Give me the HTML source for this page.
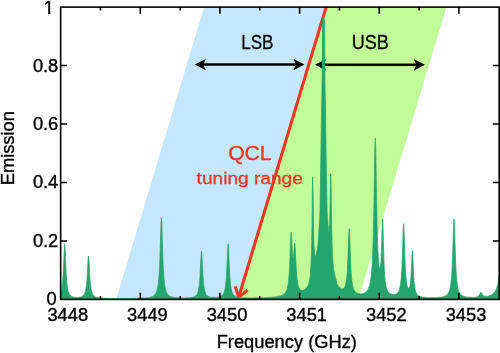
<!DOCTYPE html>
<html><head><meta charset="utf-8"><title>Emission spectrum</title>
<style>
html,body{margin:0;padding:0;background:#fff;}
svg{display:block;}
text{font-family:"Liberation Sans",sans-serif;}
</style></head>
<body>
<svg width="500" height="353" viewBox="0 0 500 353">
<rect width="500" height="353" fill="#fff"/>
<polygon points="204.10,7.1 326.10,7.1 238.03,299.4 116.03,299.4" fill="#c5e7fb"/>
<polygon points="326.10,7.1 446.40,7.1 358.33,299.4 238.03,299.4" fill="#c2fc98"/>
<path d="M326.10,7.1 L238.66,297.30" stroke="#f03423" stroke-width="3.0" fill="none"/><path d="M247.57,290.03 L238.66,297.30 L235.26,286.32" stroke="#f03423" stroke-width="3.0" fill="none" stroke-linejoin="miter"/>
<path d="M202.90,64.6 L296.40,64.6" stroke="#000" stroke-width="2.5" fill="none"/><path d="M194.80,64.6 L205.80,59.00 L203.40,64.6 L205.80,70.20 Z" fill="#000"/><path d="M304.50,64.6 L293.50,59.00 L295.90,64.6 L293.50,70.20 Z" fill="#000"/><path d="M323.10,64.8 L416.90,64.8" stroke="#000" stroke-width="2.5" fill="none"/><path d="M315.00,64.8 L326.00,59.20 L323.60,64.8 L326.00,70.40 Z" fill="#000"/><path d="M425.00,64.8 L414.00,59.20 L416.40,64.8 L414.00,70.40 Z" fill="#000"/>
<g font-size="19.3" fill="#000" stroke="#000" stroke-width="0.3">
<text x="241.2" y="48.9" textLength="32.2" lengthAdjust="spacingAndGlyphs">LSB</text>
<text x="351.7" y="49.1" textLength="37.2" lengthAdjust="spacingAndGlyphs">USB</text>
</g>
<g fill="#f03423" stroke="#f03423" stroke-width="0.3">
<text x="228.2" y="159.8" font-size="20" textLength="43.4" lengthAdjust="spacingAndGlyphs">QCL</text>
<text x="196.6" y="184.0" font-size="17.1" textLength="106.2" lengthAdjust="spacingAndGlyphs">tuning range</text>
</g>
<path d="M60.65,299.40 L60.65,292.80 60.90,292.11 61.15,291.28 61.40,290.30 61.65,289.12 61.90,287.70 62.15,285.98 62.40,283.86 62.65,281.25 62.90,278.04 63.15,274.08 63.40,269.30 63.65,263.67 63.90,257.45 64.15,251.31 64.40,246.41 64.65,244.08 64.90,245.10 65.15,249.11 65.40,254.91 65.65,261.20 65.90,267.11 66.15,272.23 66.40,276.51 66.65,279.99 66.90,282.82 67.15,285.11 67.40,286.98 67.65,288.51 67.90,289.77 68.15,290.81 68.40,291.69 68.65,292.43 68.90,293.06 69.15,293.59 69.40,294.05 69.65,294.45 69.90,294.80 70.15,295.10 70.40,295.37 70.65,295.60 70.90,295.81 71.15,296.00 71.40,296.16 71.65,296.31 71.90,296.44 72.15,296.55 72.40,296.66 72.65,296.75 72.90,296.84 73.15,296.91 73.40,296.98 73.65,297.04 73.90,297.10 74.15,297.15 74.40,297.19 74.65,297.23 74.90,297.27 75.15,297.30 75.40,297.32 75.65,297.34 75.90,297.36 76.15,297.38 76.40,297.39 76.65,297.39 76.90,297.40 77.15,297.40 77.40,297.40 77.65,297.39 77.90,297.38 78.15,297.37 78.40,297.35 78.65,297.33 78.90,297.30 79.15,297.27 79.40,297.24 79.65,297.20 79.90,297.15 80.15,297.10 80.40,297.04 80.65,296.98 80.90,296.91 81.15,296.82 81.40,296.73 81.65,296.63 81.90,296.51 82.15,296.38 82.40,296.23 82.65,296.06 82.90,295.87 83.15,295.66 83.40,295.41 83.65,295.12 83.90,294.79 84.15,294.41 84.40,293.97 84.65,293.44 84.90,292.83 85.15,292.09 85.40,291.21 85.65,290.14 85.90,288.85 86.15,287.26 86.40,285.31 86.65,282.90 86.90,279.93 87.15,276.31 87.40,272.03 87.65,267.22 87.90,262.34 88.15,258.21 88.40,255.92 88.65,256.19 88.90,258.94 89.15,263.30 89.40,268.23 89.65,272.97 89.90,277.13 90.15,280.62 90.40,283.47 90.65,285.79 90.90,287.68 91.15,289.21 91.40,290.46 91.65,291.49 91.90,292.35 92.15,293.07 92.40,293.67 92.65,294.19 92.90,294.63 93.15,295.01 93.40,295.34 93.65,295.62 93.90,295.87 94.15,296.09 94.40,296.29 94.65,296.47 94.90,296.62 95.15,296.76 95.40,296.89 95.65,297.00 95.90,297.10 96.15,297.20 96.40,297.28 96.65,297.36 96.90,297.43 97.15,297.49 97.40,297.55 97.65,297.61 97.90,297.66 98.15,297.71 98.40,297.75 98.65,297.79 98.90,297.83 99.15,297.87 99.40,297.90 99.65,297.93 99.90,297.96 100.15,297.99 100.40,298.01 100.65,298.04 100.90,298.06 101.15,298.08 101.40,298.10 101.65,298.12 101.90,298.14 102.15,298.15 102.40,298.17 102.65,298.19 102.90,298.20 103.15,298.21 103.40,298.23 103.65,298.24 103.90,298.25 104.15,298.26 104.40,298.27 104.65,298.28 104.90,298.29 105.15,298.30 105.40,298.31 105.65,298.32 105.90,298.33 106.15,298.33 106.40,298.34 106.65,298.35 106.90,298.36 107.15,298.36 107.40,298.37 107.65,298.37 107.90,298.38 108.15,298.39 108.40,298.39 108.65,298.40 108.90,298.40 109.15,298.40 109.40,298.41 109.65,298.41 109.90,298.42 110.15,298.42 110.40,298.42 110.65,298.43 110.90,298.43 111.15,298.43 111.40,298.44 111.65,298.44 111.90,298.44 112.15,298.45 112.40,298.45 112.65,298.45 112.90,298.45 113.15,298.46 113.40,298.46 113.65,298.46 113.90,298.46 114.15,298.46 114.40,298.47 114.65,298.47 114.90,298.47 115.15,298.47 115.40,298.47 115.65,298.47 115.90,298.47 116.15,298.47 116.40,298.48 116.65,298.48 116.90,298.48 117.15,298.48 117.40,298.48 117.65,298.48 117.90,298.48 118.15,298.48 118.40,298.48 118.65,298.48 118.90,298.48 119.15,298.48 119.40,298.48 119.65,298.48 119.90,298.48 120.15,298.48 120.40,298.48 120.65,298.48 120.90,298.48 121.15,298.48 121.40,298.48 121.65,298.48 121.90,298.48 122.15,298.48 122.40,298.48 122.65,298.48 122.90,298.48 123.15,298.48 123.40,298.48 123.65,298.48 123.90,298.48 124.15,298.48 124.40,298.48 124.65,298.47 124.90,298.47 125.15,298.47 125.40,298.47 125.65,298.47 125.90,298.47 126.15,298.47 126.40,298.47 126.65,298.46 126.90,298.46 127.15,298.46 127.40,298.46 127.65,298.46 127.90,298.45 128.15,298.45 128.40,298.45 128.65,298.45 128.90,298.45 129.15,298.44 129.40,298.44 129.65,298.44 129.90,298.44 130.15,298.43 130.40,298.43 130.65,298.43 130.90,298.43 131.15,298.42 131.40,298.42 131.65,298.42 131.90,298.41 132.15,298.41 132.40,298.41 132.65,298.40 132.90,298.40 133.15,298.40 133.40,298.39 133.65,298.39 133.90,298.38 134.15,298.38 134.40,298.38 134.65,298.37 134.90,298.37 135.15,298.36 135.40,298.36 135.65,298.35 135.90,298.35 136.15,298.34 136.40,298.34 136.65,298.33 136.90,298.32 137.15,298.32 137.40,298.31 137.65,298.30 137.90,298.30 138.15,298.29 138.40,298.28 138.65,298.28 138.90,298.27 139.15,298.26 139.40,298.25 139.65,298.24 139.90,298.23 140.15,298.22 140.40,298.21 140.65,298.20 140.90,298.19 141.15,298.18 141.40,298.17 141.65,298.16 141.90,298.15 142.15,298.14 142.40,298.12 142.65,298.11 142.90,298.09 143.15,298.08 143.40,298.06 143.65,298.05 143.90,298.03 144.15,298.01 144.40,298.00 144.65,297.98 144.90,297.96 145.15,297.94 145.40,297.92 145.65,297.89 145.90,297.87 146.15,297.84 146.40,297.82 146.65,297.79 146.90,297.76 147.15,297.73 147.40,297.70 147.65,297.67 147.90,297.63 148.15,297.59 148.40,297.55 148.65,297.51 148.90,297.47 149.15,297.42 149.40,297.37 149.65,297.32 149.90,297.26 150.15,297.20 150.40,297.13 150.65,297.07 150.90,296.99 151.15,296.91 151.40,296.83 151.65,296.74 151.90,296.64 152.15,296.53 152.40,296.42 152.65,296.30 152.90,296.16 153.15,296.02 153.40,295.86 153.65,295.68 153.90,295.49 154.15,295.28 154.40,295.05 154.65,294.79 154.90,294.51 155.15,294.19 155.40,293.84 155.65,293.44 155.90,292.99 156.15,292.49 156.40,291.91 156.65,291.26 156.90,290.50 157.15,289.63 157.40,288.61 157.65,287.43 157.90,286.03 158.15,284.38 158.40,282.40 158.65,280.03 158.90,277.16 159.15,273.68 159.40,269.45 159.65,264.31 159.90,258.12 160.15,250.82 160.40,242.55 160.65,233.83 160.90,225.74 161.15,219.83 161.40,217.64 161.65,219.83 161.90,225.73 162.15,233.83 162.40,242.54 162.65,250.81 162.90,258.10 163.15,264.29 163.40,269.43 163.65,273.66 163.90,277.14 164.15,280.01 164.40,282.38 164.65,284.35 164.90,286.00 165.15,287.40 165.40,288.58 165.65,289.59 165.90,290.46 166.15,291.21 166.40,291.87 166.65,292.44 166.90,292.94 167.15,293.39 167.40,293.78 167.65,294.13 167.90,294.45 168.15,294.73 168.40,294.98 168.65,295.21 168.90,295.42 169.15,295.61 169.40,295.78 169.65,295.94 169.90,296.08 170.15,296.21 170.40,296.33 170.65,296.45 170.90,296.55 171.15,296.64 171.40,296.73 171.65,296.81 171.90,296.89 172.15,296.96 172.40,297.02 172.65,297.09 172.90,297.14 173.15,297.20 173.40,297.25 173.65,297.29 173.90,297.34 174.15,297.38 174.40,297.42 174.65,297.45 174.90,297.49 175.15,297.52 175.40,297.55 175.65,297.58 175.90,297.60 176.15,297.63 176.40,297.65 176.65,297.67 176.90,297.69 177.15,297.71 177.40,297.73 177.65,297.75 177.90,297.77 178.15,297.78 178.40,297.79 178.65,297.81 178.90,297.82 179.15,297.83 179.40,297.84 179.65,297.85 179.90,297.86 180.15,297.87 180.40,297.88 180.65,297.88 180.90,297.89 181.15,297.90 181.40,297.90 181.65,297.90 181.90,297.91 182.15,297.91 182.40,297.91 182.65,297.92 182.90,297.92 183.15,297.92 183.40,297.92 183.65,297.92 183.90,297.92 184.15,297.91 184.40,297.91 184.65,297.91 184.90,297.90 185.15,297.90 185.40,297.89 185.65,297.89 185.90,297.88 186.15,297.87 186.40,297.86 186.65,297.86 186.90,297.85 187.15,297.83 187.40,297.82 187.65,297.81 187.90,297.80 188.15,297.78 188.40,297.76 188.65,297.75 188.90,297.73 189.15,297.71 189.40,297.68 189.65,297.66 189.90,297.63 190.15,297.61 190.40,297.58 190.65,297.55 190.90,297.51 191.15,297.47 191.40,297.43 191.65,297.39 191.90,297.34 192.15,297.29 192.40,297.24 192.65,297.18 192.90,297.11 193.15,297.04 193.40,296.96 193.65,296.88 193.90,296.78 194.15,296.68 194.40,296.56 194.65,296.44 194.90,296.30 195.15,296.14 195.40,295.97 195.65,295.77 195.90,295.55 196.15,295.30 196.40,295.02 196.65,294.69 196.90,294.32 197.15,293.89 197.40,293.39 197.65,292.80 197.90,292.11 198.15,291.28 198.40,290.30 198.65,289.11 198.90,287.67 199.15,285.91 199.40,283.73 199.65,281.06 199.90,277.76 200.15,273.75 200.40,268.99 200.65,263.66 200.90,258.24 201.15,253.67 201.40,251.12 201.65,251.42 201.90,254.45 202.15,259.28 202.40,264.74 202.65,269.98 202.90,274.58 203.15,278.44 203.40,281.60 203.65,284.17 203.90,286.24 204.15,287.93 204.40,289.31 204.65,290.45 204.90,291.40 205.15,292.18 205.40,292.85 205.65,293.41 205.90,293.89 206.15,294.31 206.40,294.67 206.65,294.98 206.90,295.25 207.15,295.48 207.40,295.69 207.65,295.88 207.90,296.04 208.15,296.19 208.40,296.32 208.65,296.44 208.90,296.54 209.15,296.64 209.40,296.72 209.65,296.80 209.90,296.87 210.15,296.93 210.40,296.98 210.65,297.03 210.90,297.08 211.15,297.12 211.40,297.16 211.65,297.19 211.90,297.22 212.15,297.24 212.40,297.27 212.65,297.28 212.90,297.30 213.15,297.31 213.40,297.33 213.65,297.33 213.90,297.34 214.15,297.34 214.40,297.35 214.65,297.34 214.90,297.34 215.15,297.34 215.40,297.33 215.65,297.32 215.90,297.30 216.15,297.29 216.40,297.27 216.65,297.25 216.90,297.23 217.15,297.20 217.40,297.17 217.65,297.14 217.90,297.10 218.15,297.06 218.40,297.01 218.65,296.96 218.90,296.91 219.15,296.85 219.40,296.78 219.65,296.71 219.90,296.63 220.15,296.54 220.40,296.44 220.65,296.33 220.90,296.21 221.15,296.07 221.40,295.92 221.65,295.75 221.90,295.57 222.15,295.35 222.40,295.12 222.65,294.85 222.90,294.54 223.15,294.19 223.40,293.79 223.65,293.32 223.90,292.79 224.15,292.15 224.40,291.41 224.65,290.53 224.90,289.49 225.15,288.22 225.40,286.70 225.65,284.83 225.90,282.53 226.15,279.70 226.40,276.22 226.65,271.94 226.90,266.82 227.15,260.91 227.40,254.62 227.65,248.82 227.90,244.81 228.15,243.79 228.40,246.11 228.65,251.01 228.90,257.15 229.15,263.36 229.40,268.98 229.65,273.76 229.90,277.71 230.15,280.92 230.40,283.53 230.65,285.64 230.90,287.36 231.15,288.78 231.40,289.95 231.65,290.93 231.90,291.75 232.15,292.45 232.40,293.04 232.65,293.55 232.90,293.99 233.15,294.38 233.40,294.71 233.65,295.01 233.90,295.27 234.15,295.50 234.40,295.70 234.65,295.88 234.90,296.05 235.15,296.20 235.40,296.33 235.65,296.45 235.90,296.56 236.15,296.66 236.40,296.75 236.65,296.83 236.90,296.91 237.15,296.98 237.40,297.04 237.65,297.10 237.90,297.16 238.15,297.21 238.40,297.26 238.65,297.30 238.90,297.34 239.15,297.38 239.40,297.42 239.65,297.45 239.90,297.48 240.15,297.51 240.40,297.53 240.65,297.56 240.90,297.58 241.15,297.61 241.40,297.63 241.65,297.65 241.90,297.66 242.15,297.68 242.40,297.70 242.65,297.71 242.90,297.73 243.15,297.74 243.40,297.75 243.65,297.76 243.90,297.77 244.15,297.78 244.40,297.79 244.65,297.80 244.90,297.81 245.15,297.82 245.40,297.83 245.65,297.83 245.90,297.84 246.15,297.85 246.40,297.85 246.65,297.86 246.90,297.86 247.15,297.87 247.40,297.87 247.65,297.87 247.90,297.88 248.15,297.88 248.40,297.88 248.65,297.89 248.90,297.89 249.15,297.89 249.40,297.89 249.65,297.89 249.90,297.89 250.15,297.89 250.40,297.90 250.65,297.90 250.90,297.90 251.15,297.90 251.40,297.90 251.65,297.90 251.90,297.89 252.15,297.89 252.40,297.89 252.65,297.89 252.90,297.89 253.15,297.89 253.40,297.89 253.65,297.89 253.90,297.88 254.15,297.88 254.40,297.88 254.65,297.88 254.90,297.87 255.15,297.87 255.40,297.87 255.65,297.86 255.90,297.86 256.15,297.86 256.40,297.85 256.65,297.85 256.90,297.85 257.15,297.84 257.40,297.84 257.65,297.83 257.90,297.83 258.15,297.82 258.40,297.82 258.65,297.81 258.90,297.81 259.15,297.80 259.40,297.80 259.65,297.79 259.90,297.79 260.15,297.78 260.40,297.77 260.65,297.77 260.90,297.76 261.15,297.75 261.40,297.75 261.65,297.74 261.90,297.73 262.15,297.72 262.40,297.72 262.65,297.71 262.90,297.70 263.15,297.69 263.40,297.68 263.65,297.67 263.90,297.67 264.15,297.66 264.40,297.65 264.65,297.64 264.90,297.63 265.15,297.62 265.40,297.61 265.65,297.60 265.90,297.59 266.15,297.57 266.40,297.56 266.65,297.55 266.90,297.54 267.15,297.53 267.40,297.51 267.65,297.50 267.90,297.49 268.15,297.47 268.40,297.46 268.65,297.45 268.90,297.43 269.15,297.42 269.40,297.40 269.65,297.39 269.90,297.37 270.15,297.35 270.40,297.34 270.65,297.32 270.90,297.30 271.15,297.28 271.40,297.26 271.65,297.24 271.90,297.22 272.15,297.20 272.40,297.18 272.65,297.16 272.90,297.14 273.15,297.11 273.40,297.09 273.65,297.06 273.90,297.04 274.15,297.01 274.40,296.99 274.65,296.96 274.90,296.93 275.15,296.90 275.40,296.87 275.65,296.83 275.90,296.80 276.15,296.77 276.40,296.73 276.65,296.69 276.90,296.65 277.15,296.61 277.40,296.57 277.65,296.53 277.90,296.48 278.15,296.43 278.40,296.38 278.65,296.33 278.90,296.28 279.15,296.22 279.40,296.16 279.65,296.10 279.90,296.03 280.15,295.96 280.40,295.89 280.65,295.81 280.90,295.72 281.15,295.64 281.40,295.54 281.65,295.45 281.90,295.34 282.15,295.23 282.40,295.11 282.65,294.98 282.90,294.84 283.15,294.69 283.40,294.53 283.65,294.36 283.90,294.17 284.15,293.96 284.40,293.74 284.65,293.49 284.90,293.22 285.15,292.92 285.40,292.59 285.65,292.22 285.90,291.80 286.15,291.33 286.40,290.81 286.65,290.20 286.90,289.52 287.15,288.72 287.40,287.80 287.65,286.72 287.90,285.45 288.15,283.93 288.40,282.12 288.65,279.93 288.90,277.26 289.15,273.99 289.40,270.00 289.65,265.13 289.90,259.32 290.15,252.63 290.40,245.48 290.65,238.77 290.90,233.89 291.15,232.09 291.40,233.74 291.65,237.97 291.90,243.33 292.15,248.54 292.40,252.81 292.65,255.83 292.90,257.49 293.15,257.81 293.40,256.85 293.65,254.71 293.90,251.63 294.15,248.09 294.40,244.94 294.65,243.22 294.90,243.77 295.15,246.73 295.40,251.41 295.65,256.83 295.90,262.18 296.15,266.99 296.40,271.10 296.65,274.52 296.90,277.33 297.15,279.63 297.40,281.51 297.65,283.06 297.90,284.34 298.15,285.39 298.40,286.27 298.65,287.01 298.90,287.63 299.15,288.15 299.40,288.59 299.65,288.96 299.90,289.27 300.15,289.53 300.40,289.74 300.65,289.92 300.90,290.06 301.15,290.17 301.40,290.26 301.65,290.32 301.90,290.36 302.15,290.38 302.40,290.37 302.65,290.35 302.90,290.32 303.15,290.26 303.40,290.19 303.65,290.11 303.90,290.01 304.15,289.89 304.40,289.76 304.65,289.61 304.90,289.44 305.15,289.26 305.40,289.05 305.65,288.83 305.90,288.59 306.15,288.33 306.40,288.04 306.65,287.72 306.90,287.38 307.15,287.00 307.40,286.59 307.65,286.13 307.90,285.63 308.15,285.06 308.40,284.44 308.65,283.73 308.90,282.92 309.15,282.00 309.40,280.92 309.65,279.66 309.90,278.15 310.15,276.31 310.40,274.02 310.65,269.65 310.90,265.62 311.15,260.32 311.40,253.11 311.65,243.04 311.90,228.92 312.15,210.12 312.40,189.44 312.65,176.67 312.90,181.49 313.15,199.11 313.40,217.90 313.65,232.48 313.90,242.58 314.15,248.56 314.40,252.29 314.65,254.52 314.90,255.74 315.15,256.27 315.40,256.32 315.65,256.02 315.90,255.46 316.15,254.71 316.40,253.82 316.65,252.82 316.90,251.59 317.15,250.26 317.40,248.87 317.65,247.43 317.90,245.96 318.15,242.06 318.40,238.12 318.65,234.17 318.90,230.20 319.15,226.21 319.40,222.20 319.65,218.18 319.90,212.18 320.15,198.28 320.40,184.17 320.65,169.23 320.90,153.57 321.15,135.48 321.40,118.04 321.65,103.18 321.90,92.19 322.15,77.65 322.40,34.00 322.65,19.46 322.90,17.82 323.15,16.27 323.40,15.13 323.65,15.30 323.90,16.34 324.15,17.90 324.40,22.02 324.65,36.44 324.90,79.98 325.15,93.68 325.40,104.54 325.65,120.53 325.90,137.78 326.15,155.88 326.40,170.58 326.65,185.24 326.90,198.80 327.15,212.28 327.40,215.81 327.65,219.20 327.90,222.41 328.15,225.39 328.40,228.04 328.65,230.25 328.90,231.80 329.15,231.94 329.40,228.73 329.65,223.42 329.90,215.00 330.15,202.57 330.40,186.85 330.65,173.81 330.90,173.70 331.15,187.98 331.40,206.99 331.65,223.46 331.90,235.85 332.15,244.92 332.40,251.70 332.65,256.94 332.90,261.17 333.15,264.53 333.40,266.77 333.65,268.66 333.90,270.30 334.15,271.76 334.40,273.07 334.65,274.27 334.90,275.39 335.15,276.45 335.40,277.44 335.65,278.40 335.90,279.31 336.15,280.20 336.40,281.06 336.65,283.06 336.90,283.60 337.15,284.11 337.40,284.57 337.65,285.01 337.90,285.41 338.15,285.78 338.40,286.13 338.65,286.45 338.90,286.75 339.15,287.03 339.40,287.28 339.65,287.51 339.90,287.73 340.15,287.92 340.40,288.09 340.65,288.25 340.90,288.38 341.15,288.49 341.40,288.59 341.65,288.66 341.90,288.71 342.15,288.74 342.40,288.74 342.65,288.71 342.90,288.65 343.15,288.56 343.40,288.44 343.65,288.27 343.90,288.06 344.15,287.79 344.40,287.46 344.65,287.05 344.90,286.55 345.15,285.95 345.40,285.22 345.65,284.34 345.90,283.26 346.15,281.95 346.40,280.34 346.65,278.36 346.90,275.90 347.15,272.86 347.40,269.08 347.65,264.41 347.90,258.73 348.15,252.04 348.40,244.64 348.65,237.33 348.90,231.50 349.15,228.76 349.40,230.05 349.65,234.94 349.90,241.97 350.15,249.58 350.40,256.73 350.65,262.94 350.90,268.12 351.15,272.36 351.40,275.81 351.65,278.61 351.90,280.89 352.15,282.77 352.40,284.32 352.65,285.61 352.90,286.70 353.15,287.62 353.40,288.41 353.65,289.08 353.90,289.66 354.15,290.17 354.40,290.61 354.65,291.00 354.90,291.34 355.15,291.65 355.40,291.91 355.65,292.15 355.90,292.37 356.15,292.56 356.40,292.73 356.65,292.88 356.90,293.01 357.15,293.14 357.40,293.25 357.65,293.34 357.90,293.43 358.15,293.50 358.40,293.57 358.65,293.63 358.90,293.68 359.15,293.72 359.40,293.75 359.65,293.78 359.90,293.80 360.15,293.81 360.40,293.82 360.65,293.82 360.90,293.81 361.15,293.80 361.40,293.78 361.65,293.75 361.90,293.72 362.15,293.68 362.40,293.63 362.65,293.58 362.90,293.51 363.15,293.44 363.40,293.36 363.65,293.28 363.90,293.18 364.15,293.07 364.40,292.95 364.65,292.82 364.90,292.68 365.15,292.53 365.40,292.36 365.65,292.17 365.90,291.97 366.15,291.74 366.40,291.50 366.65,291.23 366.90,290.94 367.15,290.62 367.40,290.27 367.65,289.88 367.90,289.45 368.15,288.98 368.40,288.45 368.65,287.87 368.90,287.23 369.15,286.50 369.40,285.69 369.65,284.78 369.90,283.76 370.15,282.59 370.40,281.27 370.65,279.75 370.90,278.01 371.15,276.00 371.40,273.67 371.65,270.94 371.90,267.74 372.15,263.96 372.40,259.46 372.65,254.09 372.90,247.65 373.15,239.92 373.40,230.63 373.65,219.57 373.90,206.61 374.15,191.86 374.40,175.96 374.65,160.30 374.90,147.13 375.15,139.11 375.40,138.24 375.65,144.70 375.90,156.81 376.15,171.93 376.40,187.66 376.65,202.43 376.90,215.48 377.15,226.59 377.40,235.86 377.65,243.49 377.90,249.72 378.15,254.78 378.40,258.86 378.65,262.10 378.90,264.62 379.15,266.50 379.40,267.78 379.65,268.50 379.90,268.63 380.15,268.12 380.40,266.91 380.65,264.84 380.90,261.73 381.15,257.35 381.40,251.47 381.65,243.98 381.90,235.21 382.15,226.44 382.40,220.07 382.65,218.74 382.90,223.27 383.15,231.91 383.40,241.90 383.65,251.27 383.90,259.20 384.15,265.60 384.40,270.67 384.65,274.67 384.90,277.85 385.15,280.40 385.40,282.46 385.65,284.14 385.90,285.54 386.15,286.71 386.40,287.70 386.65,288.54 386.90,289.27 387.15,289.89 387.40,290.44 387.65,290.92 387.90,291.34 388.15,291.72 388.40,292.05 388.65,292.34 388.90,292.61 389.15,292.85 389.40,293.06 389.65,293.25 389.90,293.42 390.15,293.58 390.40,293.72 390.65,293.85 390.90,293.96 391.15,294.06 391.40,294.15 391.65,294.22 391.90,294.29 392.15,294.35 392.40,294.40 392.65,294.43 392.90,294.46 393.15,294.49 393.40,294.50 393.65,294.50 393.90,294.49 394.15,294.48 394.40,294.45 394.65,294.42 394.90,294.37 395.15,294.31 395.40,294.24 395.65,294.16 395.90,294.06 396.15,293.94 396.40,293.81 396.65,293.66 396.90,293.48 397.15,293.28 397.40,293.05 397.65,292.79 397.90,292.49 398.15,292.15 398.40,291.75 398.65,291.30 398.90,290.77 399.15,290.16 399.40,289.44 399.65,288.61 399.90,287.62 400.15,286.45 400.40,285.04 400.65,283.35 400.90,281.30 401.15,278.79 401.40,275.71 401.65,271.90 401.90,267.21 402.15,261.47 402.40,254.57 402.65,246.63 402.90,238.17 403.15,230.36 403.40,224.95 403.65,223.55 403.90,226.64 404.15,233.17 404.40,241.36 404.65,249.65 404.90,257.14 405.15,263.50 405.40,268.72 405.65,272.95 405.90,276.35 406.15,279.08 406.40,281.28 406.65,283.04 406.90,284.46 407.15,285.59 407.40,286.49 407.65,287.19 407.90,287.71 408.15,288.06 408.40,288.27 408.65,288.33 408.90,288.23 409.15,287.96 409.40,287.51 409.65,286.83 409.90,285.88 410.15,284.58 410.40,282.86 410.65,280.57 410.90,277.57 411.15,273.69 411.40,268.84 411.65,263.15 411.90,257.26 412.15,252.56 412.40,250.79 412.65,252.78 412.90,257.69 413.15,263.79 413.40,269.71 413.65,274.80 413.90,278.91 414.15,282.17 414.40,284.73 414.65,286.74 414.90,288.34 415.15,289.63 415.40,290.68 415.65,291.54 415.90,292.25 416.15,292.85 416.40,293.35 416.65,293.78 416.90,294.16 417.15,294.48 417.40,294.76 417.65,295.01 417.90,295.22 418.15,295.42 418.40,295.59 418.65,295.75 418.90,295.89 419.15,296.02 419.40,296.13 419.65,296.24 419.90,296.33 420.15,296.42 420.40,296.50 420.65,296.58 420.90,296.64 421.15,296.71 421.40,296.77 421.65,296.82 421.90,296.87 422.15,296.92 422.40,296.97 422.65,297.01 422.90,297.05 423.15,297.08 423.40,297.12 423.65,297.15 423.90,297.18 424.15,297.21 424.40,297.24 424.65,297.26 424.90,297.29 425.15,297.31 425.40,297.33 425.65,297.35 425.90,297.37 426.15,297.39 426.40,297.40 426.65,297.42 426.90,297.44 427.15,297.45 427.40,297.46 427.65,297.47 427.90,297.49 428.15,297.50 428.40,297.51 428.65,297.52 428.90,297.53 429.15,297.53 429.40,297.54 429.65,297.55 429.90,297.55 430.15,297.56 430.40,297.56 430.65,297.57 430.90,297.57 431.15,297.57 431.40,297.58 431.65,297.58 431.90,297.58 432.15,297.58 432.40,297.58 432.65,297.58 432.90,297.58 433.15,297.58 433.40,297.58 433.65,297.58 433.90,297.57 434.15,297.57 434.40,297.56 434.65,297.56 434.90,297.55 435.15,297.55 435.40,297.54 435.65,297.53 435.90,297.52 436.15,297.51 436.40,297.50 436.65,297.49 436.90,297.48 437.15,297.47 437.40,297.45 437.65,297.44 437.90,297.42 438.15,297.41 438.40,297.39 438.65,297.37 438.90,297.35 439.15,297.33 439.40,297.30 439.65,297.28 439.90,297.25 440.15,297.22 440.40,297.19 440.65,297.16 440.90,297.13 441.15,297.09 441.40,297.05 441.65,297.01 441.90,296.97 442.15,296.92 442.40,296.87 442.65,296.81 442.90,296.75 443.15,296.69 443.40,296.62 443.65,296.55 443.90,296.47 444.15,296.39 444.40,296.30 444.65,296.20 444.90,296.09 445.15,295.98 445.40,295.85 445.65,295.72 445.90,295.57 446.15,295.40 446.40,295.23 446.65,295.03 446.90,294.81 447.15,294.57 447.40,294.31 447.65,294.01 447.90,293.68 448.15,293.31 448.40,292.89 448.65,292.42 448.90,291.88 449.15,291.27 449.40,290.57 449.65,289.76 449.90,288.82 450.15,287.73 450.40,286.44 450.65,284.92 450.90,283.11 451.15,280.94 451.40,278.33 451.65,275.16 451.90,271.31 452.15,266.62 452.40,260.95 452.65,254.19 452.90,246.40 453.15,237.90 453.40,229.52 453.65,222.64 453.90,218.87 454.15,219.31 454.40,223.81 454.65,231.12 454.90,239.62 455.15,248.03 455.40,255.63 455.65,262.16 455.90,267.62 456.15,272.13 456.40,275.84 456.65,278.89 456.90,281.40 457.15,283.49 457.40,285.24 457.65,286.71 457.90,287.95 458.15,289.01 458.40,289.92 458.65,290.70 458.90,291.39 459.15,291.98 459.40,292.50 459.65,292.96 459.90,293.37 460.15,293.73 460.40,294.05 460.65,294.34 460.90,294.60 461.15,294.84 461.40,295.05 461.65,295.24 461.90,295.41 462.15,295.57 462.40,295.72 462.65,295.85 462.90,295.97 463.15,296.09 463.40,296.19 463.65,296.28 463.90,296.37 464.15,296.45 464.40,296.53 464.65,296.60 464.90,296.66 465.15,296.72 465.40,296.78 465.65,296.83 465.90,296.88 466.15,296.92 466.40,296.96 466.65,297.00 466.90,297.04 467.15,297.07 467.40,297.10 467.65,297.13 467.90,297.16 468.15,297.18 468.40,297.20 468.65,297.22 468.90,297.24 469.15,297.26 469.40,297.27 469.65,297.29 469.90,297.30 470.15,297.31 470.40,297.32 470.65,297.33 470.90,297.34 471.15,297.34 471.40,297.35 471.65,297.35 471.90,297.35 472.15,297.35 472.40,297.35 472.65,297.34 472.90,297.34 473.15,297.33 473.40,297.32 473.65,297.31 473.90,297.30 474.15,297.29 474.40,297.27 474.65,297.25 474.90,297.23 475.15,297.20 475.40,297.17 475.65,297.13 475.90,297.09 476.15,297.05 476.40,296.99 476.65,296.93 476.90,296.86 477.15,296.78 477.40,296.68 477.65,296.57 477.90,296.43 478.15,296.27 478.40,296.08 478.65,295.84 478.90,295.56 479.15,295.21 479.40,294.80 479.65,294.31 479.90,293.77 480.15,293.19 480.40,292.65 480.65,292.25 480.90,292.09 481.15,292.22 481.40,292.58 481.65,293.08 481.90,293.62 482.15,294.14 482.40,294.58 482.65,294.96 482.90,295.27 483.15,295.51 483.40,295.71 483.65,295.87 483.90,295.99 484.15,296.09 484.40,296.16 484.65,296.21 484.90,296.25 485.15,296.28 485.40,296.30 485.65,296.30 485.90,296.30 486.15,296.29 486.40,296.28 486.65,296.25 486.90,296.23 487.15,296.19 487.40,296.15 487.65,296.11 487.90,296.06 488.15,296.01 488.40,295.95 488.65,295.89 488.90,295.82 489.15,295.74 489.40,295.66 489.65,295.58 489.90,295.49 490.15,295.39 490.40,295.29 490.65,295.18 490.90,295.06 491.15,294.93 491.40,294.80 491.65,294.66 491.90,294.50 492.15,294.34 492.40,294.16 492.65,293.98 492.90,293.78 493.15,293.56 493.40,293.33 493.65,293.09 493.90,292.82 494.15,292.53 494.40,292.23 494.65,291.89 494.90,291.53 495.15,291.15 495.40,290.73 495.65,290.27 495.90,289.77 496.15,289.23 496.40,288.64 496.65,288.00 496.90,287.29 497.15,286.52 497.40,285.67 497.65,284.74 497.90,283.71 498.15,282.58 498.40,281.33 498.65,279.96 498.90,278.44 499.15,276.77 L499.20,299.40 Z" fill="#23a66d" stroke="#23a66d" stroke-width="0.7" stroke-linejoin="round"/>
<rect x="60.65" y="7.1" width="438.55" height="292.30" fill="none" stroke="#000" stroke-width="1.6"/>
<path d="M100.47,299.4 v-3.5 M100.47,7.1 v3.5 M140.30,299.4 v-6.6 M140.30,7.1 v6.6 M180.12,299.4 v-3.5 M180.12,7.1 v3.5 M219.95,299.4 v-6.6 M219.95,7.1 v6.6 M259.77,299.4 v-3.5 M259.77,7.1 v3.5 M299.60,299.4 v-6.6 M299.60,7.1 v6.6 M339.43,299.4 v-3.5 M339.43,7.1 v3.5 M379.25,299.4 v-6.6 M379.25,7.1 v6.6 M419.07,299.4 v-3.5 M419.07,7.1 v3.5 M458.90,299.4 v-6.6 M458.90,7.1 v6.6 M60.65,240.94 h6.4 M499.2,240.94 h-6.4 M60.65,182.48 h6.4 M499.2,182.48 h-6.4 M60.65,124.02 h6.4 M499.2,124.02 h-6.4 M60.65,65.56 h6.4 M499.2,65.56 h-6.4" stroke="#000" stroke-width="1.6" fill="none"/>
<g font-size="18.3" fill="#000" stroke="#000" stroke-width="0.35">
<text x="67.75" y="321.0" text-anchor="middle">3448</text><text x="147.40" y="321.0" text-anchor="middle">3449</text><text x="227.05" y="321.0" text-anchor="middle">3450</text><text x="306.70" y="321.0" text-anchor="middle">3451</text><text x="386.35" y="321.0" text-anchor="middle">3452</text><text x="466.00" y="321.0" text-anchor="middle">3453</text>
<text x="56.599999999999994" y="305.00" text-anchor="end">0</text><text x="58.3" y="246.72" text-anchor="end">0.2</text><text x="58.3" y="188.44" text-anchor="end">0.4</text><text x="58.3" y="130.16" text-anchor="end">0.6</text><text x="58.3" y="71.88" text-anchor="end">0.8</text><clipPath id="one"><rect x="30" y="-5" width="30" height="16.50"/><rect x="48.01" y="11.31" width="2.34" height="4"/></clipPath><text x="54.0" y="13.60" text-anchor="end" clip-path="url(#one)">1</text>
<text x="286.8" y="348.4" text-anchor="middle">Frequency (GHz)</text>
<text transform="translate(14.3,148.2) rotate(-90)" text-anchor="middle">Emission</text>
</g>
</svg>
</body></html>
